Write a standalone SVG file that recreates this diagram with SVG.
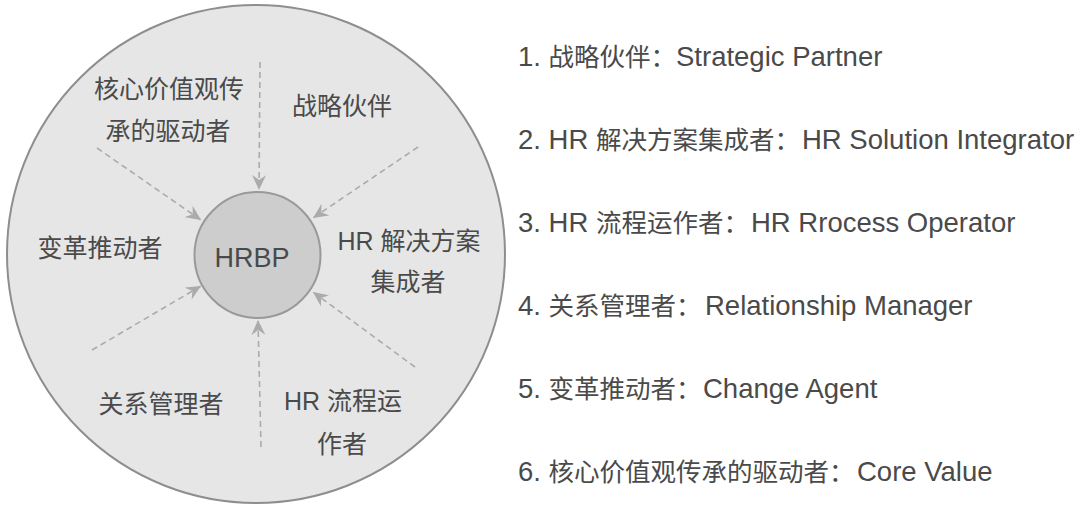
<svg xmlns="http://www.w3.org/2000/svg" width="1080" height="509" viewBox="0 0 1080 509">
<style>
.lbl{font-family:"Liberation Sans","Noto Sans CJK SC",sans-serif;font-size:25px;fill:#4a4a4a;text-anchor:middle}
.hub{font-family:"Liberation Sans",sans-serif;font-size:27px;fill:#4a4a4a;text-anchor:middle}
.row{font-family:"Liberation Sans","Noto Sans CJK SC",sans-serif;fill:#4a4a4a}
.lat{font-family:"Liberation Sans",sans-serif;font-size:27.5px}
.cjk{font-family:"Noto Sans CJK SC",sans-serif;font-size:25.5px}
.conn{stroke:#ababab;stroke-width:1.6;stroke-dasharray:6 4;fill:none;marker-end:url(#ah)}
</style>
<defs>
<marker id="ah" markerUnits="userSpaceOnUse" markerWidth="16" markerHeight="14" refX="15" refY="7" orient="auto">
<path d="M0,0 L15,7 L0,14 L5,7 Z" fill="#ababab"/>
</marker>
</defs>
<rect width="1080" height="509" fill="#ffffff"/>
<g id="outer">
<circle cx="256" cy="254" r="249" fill="#e6e6e6" stroke="#8e8e8e" stroke-width="2"/>
</g>
<g id="connectors">
<line class="conn" x1="260" y1="62" x2="259" y2="190"/>
<line class="conn" x1="261" y1="447" x2="258" y2="320"/>
<line class="conn" x1="97" y1="148" x2="201" y2="220"/>
<line class="conn" x1="418" y1="147" x2="313" y2="218"/>
<line class="conn" x1="92" y1="350" x2="201" y2="286"/>
<line class="conn" x1="415" y1="367" x2="313" y2="292"/>
</g>
<g id="hrbp">
<circle cx="257.5" cy="255" r="63" fill="#cdcdcd" stroke="#999999" stroke-width="2"/>
<text class="hub" x="252" y="267">HRBP</text>
</g>
<g id="n-core"><text class="lbl" x="169" y="98">核心价值观传</text><text class="lbl" x="168" y="140">承的驱动者</text></g>
<g id="n-strategic"><text class="lbl" x="342" y="115">战略伙伴</text></g>
<g id="n-change"><text class="lbl" x="100" y="257">变革推动者</text></g>
<g id="n-solution"><text class="lbl" x="409" y="250">HR 解决方案</text><text class="lbl" x="408" y="291">集成者</text></g>
<g id="n-relation"><text class="lbl" x="161" y="413">关系管理者</text></g>
<g id="n-process"><text class="lbl" x="343" y="410">HR 流程运</text><text class="lbl" x="342" y="453">作者</text></g>
<g id="list">
<text class="row" x="518" y="65.5"><tspan class="lat">1. </tspan><tspan class="cjk">战略伙伴：</tspan><tspan class="lat" x="676">Strategic Partner</tspan></text>
<text class="row" x="518" y="148.5"><tspan class="lat">2. HR </tspan><tspan class="cjk">解决方案集成者：</tspan><tspan class="lat" x="802">HR Solution Integrator</tspan></text>
<text class="row" x="518" y="231.5"><tspan class="lat">3. HR </tspan><tspan class="cjk">流程运作者：</tspan><tspan class="lat" x="751">HR Rrocess Operator</tspan></text>
<text class="row" x="518" y="314.5"><tspan class="lat">4. </tspan><tspan class="cjk">关系管理者：</tspan><tspan class="lat" x="705">Relationship Manager</tspan></text>
<text class="row" x="518" y="397.5"><tspan class="lat">5. </tspan><tspan class="cjk">变革推动者：</tspan><tspan class="lat" x="703">Change Agent</tspan></text>
<text class="row" x="518" y="481"><tspan class="lat">6. </tspan><tspan class="cjk">核心价值观传承的驱动者：</tspan><tspan class="lat" x="857">Core Value</tspan></text>
</g>
</svg>
